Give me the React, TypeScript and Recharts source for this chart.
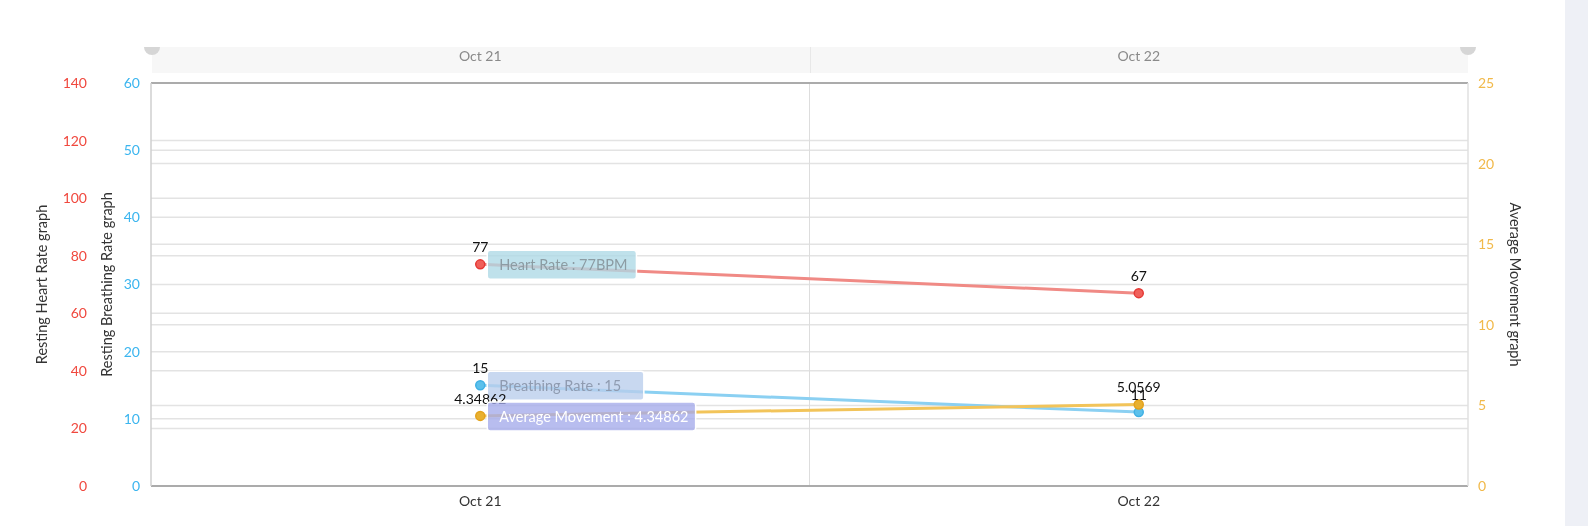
import {
  ComposedChart,
  Line,
  XAxis,
  YAxis,
  CartesianGrid,
  ReferenceLine,
  LabelList,
} from "recharts";

const days = ["Oct 21", "Oct 22"];
const heartRate = [77, 67];
const breathingRate = [15, 11];
const movement = [4.34862, 5.0569];

const heartTicks = [0, 20, 40, 60, 80, 100, 120, 140];
const breathTicks = [0, 10, 20, 30, 40, 50, 60];
const moveTicks = [0, 5, 10, 15, 20, 25];

const balloons = [
  { key: "heart", text: (v: number) => `Heart Rate : ${v}BPM`, fill: "#add8e6", color: "#8c9ca3" },
  { key: "breath", text: (v: number) => `Breathing Rate : ${v}`, fill: "#b8cdec", color: "#8f9bb0" },
  { key: "move", text: (v: number) => `Average Movement : ${v}`, fill: "#a4aaea", color: "#ffffff" },
];

const data = days.map((d, i) => ({
  idx: i,
  heart: heartRate[i],
  breath: breathingRate[i],
  move: movement[i],
}));

const font = "Lato, 'Open Sans', sans-serif";

const makeBalloon = (b: (typeof balloons)[number]) => (props: any) => {
  const { x, y, value, index } = props;
  if (index !== 0) return null;
  const label = b.text(value);
  const w = label.length * 7.4 + 16;
  return (
    <g>
      <rect
        x={x + 7}
        y={y - 14}
        width={w}
        height={29}
        rx={3}
        fill={b.fill}
        fillOpacity={0.78}
        stroke="#ffffff"
        strokeWidth={1.5}
      />
      <text x={x + 19} y={y + 6} fill={b.color} fontSize={14.5} fontFamily={font}>
        {label}
      </text>
    </g>
  );
};

const valueLabel = {
  position: "top" as const,
  offset: 12,
  fill: "#111",
  fontSize: 14,
  fontFamily: font,
};

export default function App() {
  return (
    <div style={{ position: "relative", width: 1560, height: 510, fontFamily: font }}>
      <div
        style={{
          position: "fixed",
          right: 0,
          top: 0,
          bottom: 0,
          width: 23,
          background: "#eef0f6",
        }}
      />
      <div
        style={{
          position: "absolute",
          left: 144,
          top: 39,
          width: 1316,
          height: 26,
          background: "#f7f7f7",
        }}
      >
        <div style={{ position: "absolute", left: 658, top: 0, width: 1, height: 26, background: "#e8e8e8" }} />
      </div>
      {[136, 1452].map((l) => (
        <div
          key={l}
          style={{ position: "absolute", left: l, top: 39, width: 16, height: 9, overflow: "hidden" }}
        >
          <div
            style={{
              position: "absolute",
              top: -8,
              width: 16,
              height: 16,
              borderRadius: 8,
              background: "#d6d6d6",
            }}
          />
        </div>
      ))}
      <div style={{ position: "absolute", left: 0, top: 0 }}>
        <ComposedChart
          width={1560}
          height={508}
          data={data}
          margin={{ top: 39, right: 30, bottom: 0, left: 23 }}
        >
          <CartesianGrid yAxisId="breath" xAxisId="bottom" vertical={false} stroke="#e3e3e3" strokeWidth={1.5} />
          <CartesianGrid yAxisId="heart" xAxisId="bottom" vertical={false} stroke="#e3e3e3" strokeWidth={1.5} />
          <CartesianGrid yAxisId="move" xAxisId="bottom" vertical={false} stroke="#e3e3e3" strokeWidth={1.5} />
          <XAxis
            xAxisId="top"
            orientation="top"
            type="number"
            dataKey="idx"
            domain={[-0.5, 1.5]}
            ticks={[0, 1]}
            tickFormatter={(i: number) => days[i]}
            height={36}
            tickLine={false}
            tickSize={0}
            tickMargin={22}
            axisLine={{ stroke: "#999", strokeWidth: 1.5 }}
            tick={{ fill: "#8a8a8a", fontSize: 14, fontFamily: font }}
          />
          <XAxis
            xAxisId="bottom"
            type="number"
            dataKey="idx"
            domain={[-0.5, 1.5]}
            ticks={[0, 1]}
            tickFormatter={(i: number) => days[i]}
            height={30}
            tickLine={false}
            tickSize={0}
            tickMargin={10}
            axisLine={{ stroke: "#999", strokeWidth: 1.5 }}
            tick={{ fill: "#333", fontSize: 14, fontFamily: font }}
          />
          <YAxis
            yAxisId="breath"
            orientation="left"
            width={60}
            domain={[0, 60]}
            ticks={breathTicks}
            tickLine={false}
            tickSize={0}
            tickMargin={11}
            axisLine={{ stroke: "#cfcfcf", strokeWidth: 1.5 }}
            tick={{ fill: "#3bb5ef", fontSize: 14, fontFamily: font }}
            label={{
              value: "Resting Breathing Rate graph",
              angle: -90,
              position: "center",
              dx: -14,
              fill: "#333",
              fontSize: 14.5,
              fontFamily: font,
            }}
          />
          <YAxis
            yAxisId="heart"
            orientation="left"
            width={60}
            domain={[0, 140]}
            ticks={heartTicks}
            tickLine={false}
            axisLine={false}
            tickSize={0}
            tickMargin={4}
            tick={{ fill: "#f0483e", fontSize: 14, fontFamily: font }}
            label={{
              value: "Resting Heart Rate graph",
              angle: -90,
              position: "center",
              dx: -19,
              fill: "#333",
              fontSize: 14.5,
              fontFamily: font,
            }}
          />
          <YAxis
            yAxisId="move"
            orientation="right"
            width={70}
            domain={[0, 25]}
            ticks={moveTicks}
            tickLine={false}
            tickSize={0}
            tickMargin={10}
            axisLine={{ stroke: "#e0e0e0", strokeWidth: 1.5 }}
            tick={{ fill: "#f1b94a", fontSize: 14, fontFamily: font }}
            label={{
              value: "Average Movement graph",
              angle: 90,
              position: "center",
              dx: 12,
              fill: "#333",
              fontSize: 14.5,
              fontFamily: font,
            }}
          />
          <ReferenceLine xAxisId="bottom" yAxisId="breath" x={0.5} stroke="#dddddd" strokeWidth={1} />
          <Line
            xAxisId="bottom"
            yAxisId="heart"
            dataKey="heart"
            stroke="#f08a85"
            strokeWidth={3}
            dot={{ r: 4.5, fill: "#f0605a", stroke: "#e53935", strokeWidth: 1.5 }}
            isAnimationActive={false}
          >
            <LabelList dataKey="heart" {...valueLabel} />
            <LabelList dataKey="heart" content={makeBalloon(balloons[0])} />
          </Line>
          <Line
            xAxisId="bottom"
            yAxisId="breath"
            dataKey="breath"
            stroke="#8bd0f2"
            strokeWidth={3}
            dot={{ r: 4.5, fill: "#5bc0eb", stroke: "#3fb0e4", strokeWidth: 1.5 }}
            isAnimationActive={false}
          >
            <LabelList dataKey="breath" {...valueLabel} />
            <LabelList dataKey="breath" content={makeBalloon(balloons[1])} />
          </Line>
          <Line
            xAxisId="bottom"
            yAxisId="move"
            dataKey="move"
            stroke="#f2c45a"
            strokeWidth={3}
            dot={{ r: 4.5, fill: "#e8b030", stroke: "#e3a21c", strokeWidth: 1.5 }}
            isAnimationActive={false}
          >
            <LabelList dataKey="move" {...valueLabel} />
            <LabelList dataKey="move" content={makeBalloon(balloons[2])} />
          </Line>
        </ComposedChart>
      </div>
    </div>
  );
}
